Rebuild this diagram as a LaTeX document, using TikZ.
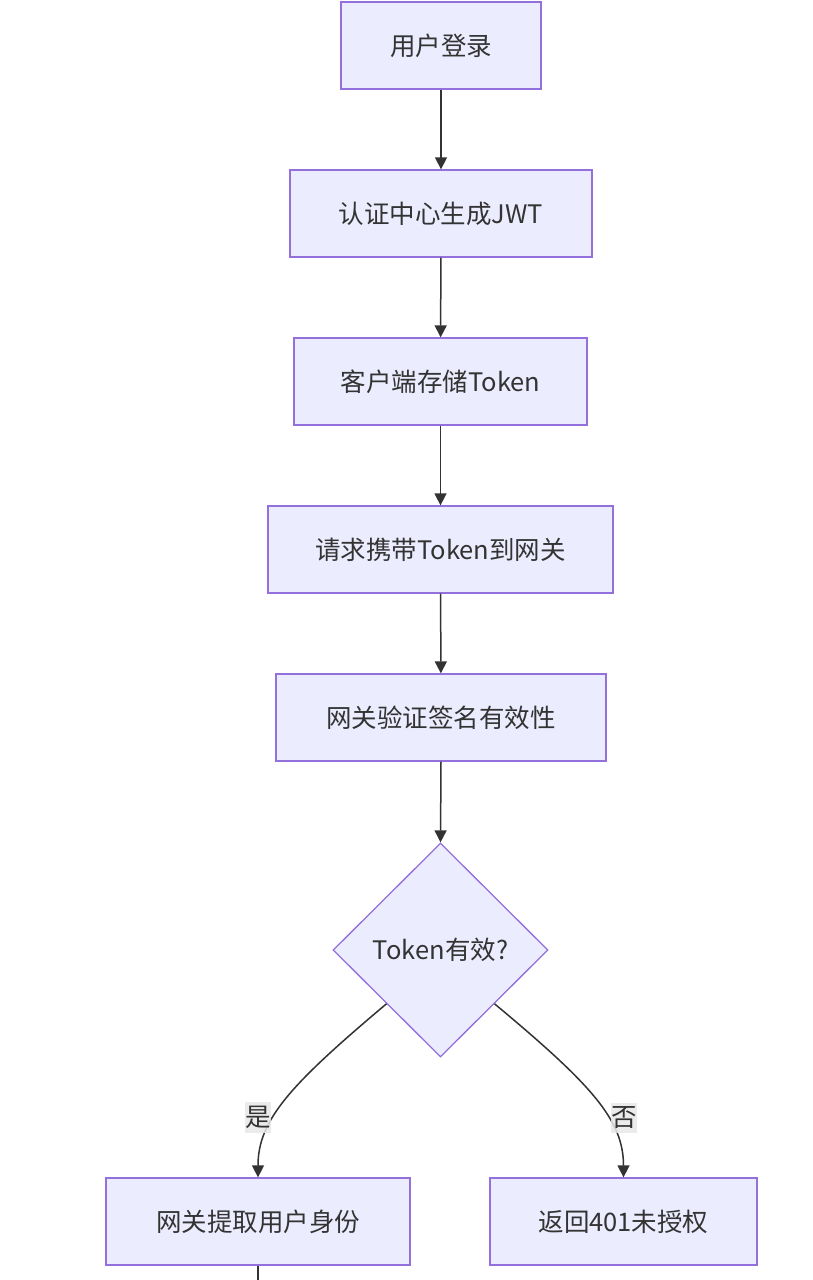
\documentclass[tikz,border=0pt]{standalone}
\usepackage{fontspec}
\setmainfont{Noto Sans CJK SC}
\usetikzlibrary{shapes.geometric,arrows.meta}
\definecolor{nodefill}{HTML}{ECECFF}
\definecolor{nodeline}{HTML}{9370DB}
\definecolor{txt}{HTML}{333333}
\definecolor{lblbg}{HTML}{E8E8E8}
\begin{document}
\begin{tikzpicture}[x=1pt,y=-1pt,
  every node/.style={font=\fontsize{25.5}{29}\selectfont, text=txt},
  procbox/.style={draw=nodeline, fill=nodefill, line width=1.3pt, minimum height=87pt, inner sep=0pt, anchor=center},
  decbox/.style={draw=nodeline, fill=nodefill, line width=1.3pt, diamond, minimum width=215pt, minimum height=214pt, inner sep=0pt},
  flow/.style={draw=txt, line width=1.5pt, -{Triangle[length=12pt,width=12pt]}},
  edgelbl/.style={fill=lblbg, fill opacity=0.85, text opacity=1, inner xsep=0.5pt, inner ysep=4pt}
]
\useasboundingbox (0,0) rectangle (813,1280);
\fill[white] (0,0) rectangle (813,1280);

\node[procbox, minimum width=200pt] (a) at (441,45.5) {用户登录};
\node[procbox, minimum width=302pt] (b) at (441,213.5) {认证中心生成JWT};
\node[procbox, minimum width=293pt] (c) at (440.5,381.5) {客户端存储Token};
\node[procbox, minimum width=345pt] (d) at (440.5,549.5) {请求携带Token到网关};
\node[procbox, minimum width=330pt] (e) at (441,717.5) {网关验证签名有效性};
\node[decbox] (f) at (440.5,950) {Token有效?};
\node[procbox, minimum width=304pt] (g) at (258,1221.5) {网关提取用户身份};
\node[procbox, minimum width=267pt] (h) at (623.5,1221.5) {返回401未授权};
\coordinate (gout) at (258,1285);

\draw[flow] (a) -- (b);
\draw[flow] (b) -- (c);
\draw[flow] (c) -- (d);
\draw[flow] (d) -- (e);
\draw[flow] (e.south) -- (f.north);
\draw[flow] (f.south west) .. controls (290,1085) and (258,1120) .. (g.north);
\draw[flow] (f.south east) .. controls (592,1085) and (623.5,1120) .. (h.north);
\draw[draw=txt, line width=1.5pt] (g.south) -- (gout);

\node[edgelbl] (yes) at (258,1117.5) {是};
\node[edgelbl] (no) at (624,1117.5) {否};
\end{tikzpicture}
\end{document}
